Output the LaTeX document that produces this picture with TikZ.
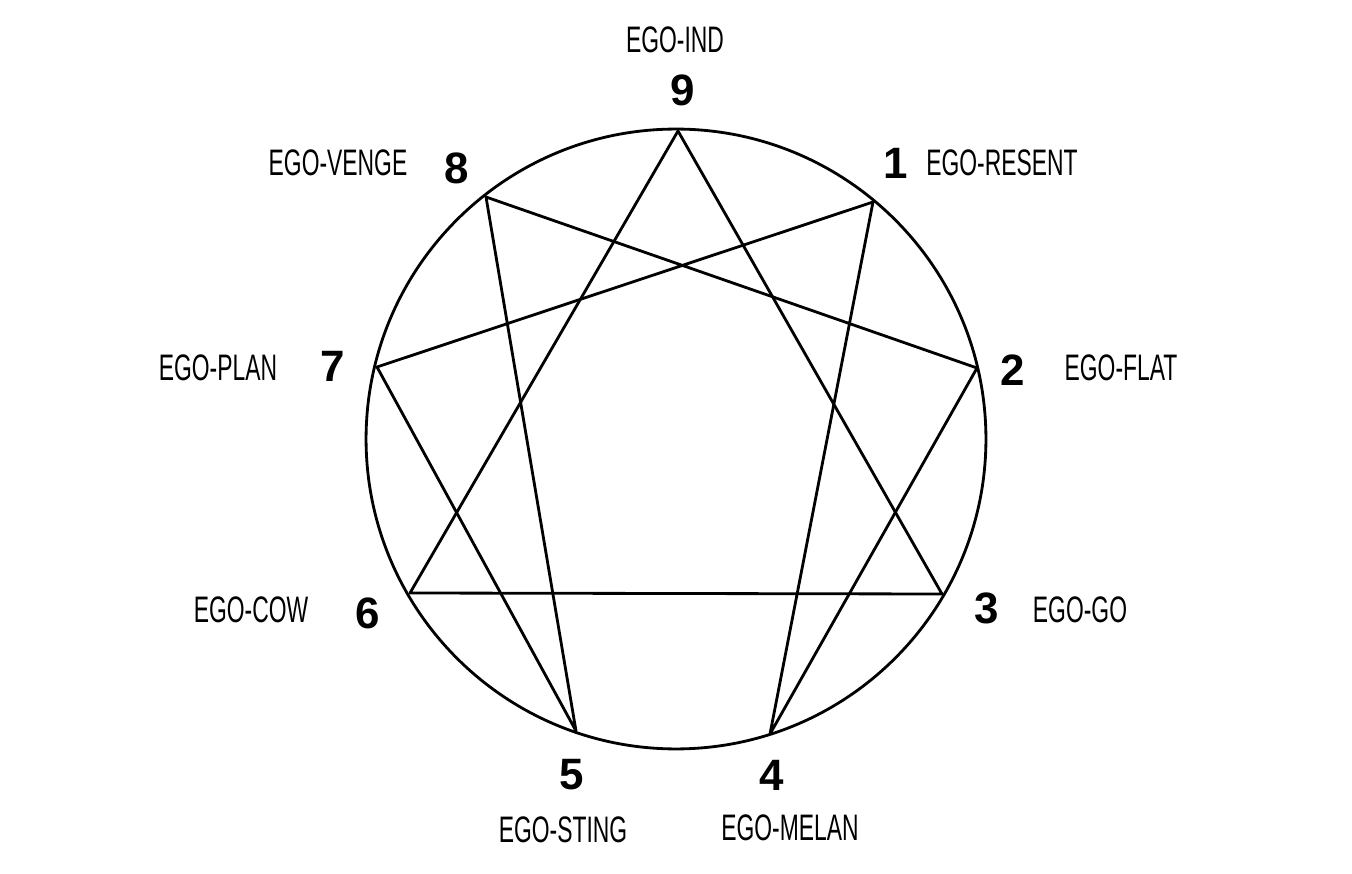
\documentclass[tikz,border=0pt]{standalone}
\usepackage{fontspec}
\setmainfont{Liberation Sans}
\newfontfamily\egofont[FakeStretch=0.62]{Liberation Sans}
\usepackage{tikz}

\begin{document}
\begin{tikzpicture}[x=0.02cm, y=-0.02cm,
    num/.style={font=\fontsize{25}{25}\selectfont\bfseries, inner sep=0pt},
    ego/.style={font=\egofont\fontsize{21}{21}\selectfont, inner sep=0pt},
    edge/.style={line width=1.6pt, line join=round}]
    \useasboundingbox (0,0) rectangle (1352,874);

    % Circle
    \draw[edge] (676,439) circle[radius=6.2cm];

    % Points
    \coordinate (p9) at (678,131);
    \coordinate (p1) at (873,202);
    \coordinate (p2) at (977,368);
    \coordinate (p3) at (942,594);
    \coordinate (p4) at (770,734);
    \coordinate (p5) at (576,731);
    \coordinate (p6) at (410,593);
    \coordinate (p7) at (377,367);
    \coordinate (p8) at (486,197);

    % Triangle
    \draw[edge] (p9) -- (p3) -- (p6) -- cycle;
    % Hexad
    \draw[edge] (p1) -- (p4) -- (p2) -- (p8) -- (p5) -- (p7) -- cycle;

    % Numbers
    \node[num] (n9) at (683,90) {9};
    \node[num] (n1) at (896,163) {1};
    \node[num] (n2) at (1013,370) {2};
    \node[num] (n3) at (987,608) {3};
    \node[num] (n4) at (772,775) {4};
    \node[num] (n5) at (572,775) {5};
    \node[num] (n6) at (368,613) {6};
    \node[num] (n7) at (333,366) {7};
    \node[num] (n8) at (457,168) {8};

    % Labels
    \node[ego] (l9) at (675,40) {EGO-IND};
    \node[ego] (l1) at (1002,163) {EGO-RESENT};
    \node[ego] (l2) at (1121,368) {EGO-FLAT};
    \node[ego] (l3) at (1080,610) {EGO-GO};
    \node[ego] (l4) at (790,828) {EGO-MELAN};
    \node[ego] (l5) at (563,830) {EGO-STING};
    \node[ego] (l6) at (251,610) {EGO-COW};
    \node[ego] (l7) at (218,368) {EGO-PLAN};
    \node[ego] (l8) at (338,163) {EGO-VENGE};
\end{tikzpicture}
\end{document}
